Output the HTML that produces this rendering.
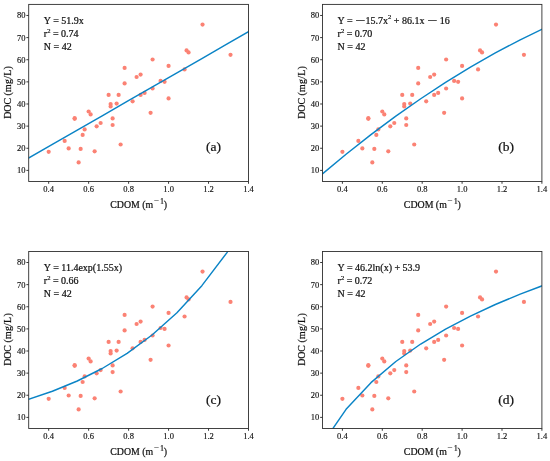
<!DOCTYPE html>
<html><head><meta charset="utf-8"><title>DOC vs CDOM</title>
<style>
html,body{margin:0;padding:0;background:#fff;}
body{width:550px;height:461px;overflow:hidden;}
svg{display:block;font-family:"Liberation Serif","Times New Roman",serif;}
text{fill:#111;stroke:#111;stroke-width:0.22px;}
.tk{font-size:8.5px;}
.tk text{stroke-width:0.15px;}
.al{font-size:9.85px;}
.mn{stroke-width:0;}
.eq{font-size:10px;}
.pl{font-size:13.5px;}
</style></head><body>
<svg width="550" height="461" viewBox="0 0 550 461">
<rect width="550" height="461" fill="#fff"/>
<g id="p0">
<clipPath id="c0"><rect x="28.7" y="4.4" width="219.80" height="177.05"/></clipPath>
<g fill="#fb8274">
<circle cx="48.68" cy="151.79" r="2.1"/>
<circle cx="64.67" cy="140.95" r="2.1"/>
<circle cx="68.66" cy="148.47" r="2.1"/>
<circle cx="74.66" cy="118.82" r="2.1"/>
<circle cx="74.66" cy="118.15" r="2.1"/>
<circle cx="78.65" cy="162.42" r="2.1"/>
<circle cx="80.65" cy="148.92" r="2.1"/>
<circle cx="82.65" cy="134.97" r="2.1"/>
<circle cx="84.65" cy="129.44" r="2.1"/>
<circle cx="88.65" cy="111.52" r="2.1"/>
<circle cx="90.64" cy="114.39" r="2.1"/>
<circle cx="94.64" cy="151.35" r="2.1"/>
<circle cx="96.64" cy="126.34" r="2.1"/>
<circle cx="100.63" cy="123.02" r="2.1"/>
<circle cx="108.63" cy="94.92" r="2.1"/>
<circle cx="110.63" cy="103.99" r="2.1"/>
<circle cx="110.63" cy="106.43" r="2.1"/>
<circle cx="112.62" cy="118.38" r="2.1"/>
<circle cx="112.62" cy="125.02" r="2.1"/>
<circle cx="116.62" cy="103.55" r="2.1"/>
<circle cx="118.62" cy="94.92" r="2.1"/>
<circle cx="120.62" cy="144.49" r="2.1"/>
<circle cx="124.61" cy="67.92" r="2.1"/>
<circle cx="124.61" cy="83.41" r="2.1"/>
<circle cx="132.61" cy="101.33" r="2.1"/>
<circle cx="136.60" cy="76.99" r="2.1"/>
<circle cx="140.60" cy="74.56" r="2.1"/>
<circle cx="140.60" cy="94.92" r="2.1"/>
<circle cx="144.59" cy="92.92" r="2.1"/>
<circle cx="150.59" cy="112.84" r="2.1"/>
<circle cx="152.59" cy="59.51" r="2.1"/>
<circle cx="152.59" cy="88.50" r="2.1"/>
<circle cx="160.58" cy="80.97" r="2.1"/>
<circle cx="164.58" cy="81.86" r="2.1"/>
<circle cx="168.57" cy="65.92" r="2.1"/>
<circle cx="168.57" cy="98.46" r="2.1"/>
<circle cx="184.56" cy="69.47" r="2.1"/>
<circle cx="186.56" cy="50.43" r="2.1"/>
<circle cx="188.55" cy="52.42" r="2.1"/>
<circle cx="202.54" cy="24.54" r="2.1"/>
<circle cx="230.52" cy="54.86" r="2.1"/>
</g>
<polyline clip-path="url(#c0)" fill="none" stroke="#0b84c6" stroke-width="1.45" stroke-linejoin="round" points="27.44,158.78 52.36,144.46 77.28,130.13 102.19,115.81 127.11,101.49 152.03,87.16 176.95,72.84 201.86,58.52 226.78,44.20 251.70,29.87"/>
<rect x="28.7" y="4.4" width="219.80" height="177.05" fill="none" stroke="#2e2e2e" stroke-width="0.9"/>
<path d="M26.40 170.38H28.7M26.40 148.25H28.7M26.40 126.12H28.7M26.40 103.99H28.7M26.40 81.86H28.7M26.40 59.73H28.7M26.40 37.60H28.7M26.40 15.47H28.7M48.68 181.45V183.75M88.65 181.45V183.75M128.61 181.45V183.75M168.57 181.45V183.75M208.54 181.45V183.75M248.50 181.45V183.75" stroke="#2e2e2e" stroke-width="0.95" fill="none"/>
<g class="tk" text-anchor="end">
<text x="25.40" y="173.28">10</text>
<text x="25.40" y="151.15">20</text>
<text x="25.40" y="129.02">30</text>
<text x="25.40" y="106.89">40</text>
<text x="25.40" y="84.76">50</text>
<text x="25.40" y="62.63">60</text>
<text x="25.40" y="40.50">70</text>
<text x="25.40" y="18.37">80</text>
</g><g class="tk" text-anchor="middle">
<text x="48.68" y="192.45">0.4</text>
<text x="88.65" y="192.45">0.6</text>
<text x="128.61" y="192.45">0.8</text>
<text x="168.57" y="192.45">1.0</text>
<text x="208.54" y="192.45">1.2</text>
<text x="248.50" y="192.45">1.4</text>
</g>
<text class="al" x="110.30" y="207.75">CDOM (m<tspan class="mn" font-size="9.6" dx="0.5" dy="-3.6">−</tspan><tspan font-size="7.2" dx="1.2" dy="-0.6">1</tspan><tspan dx="-0.1" dy="4.2">)</tspan></text>
<text class="al" transform="translate(11.10 118.82) rotate(-90)">DOC <tspan letter-spacing="0.28">(mg/L)</tspan></text>
<text class="eq" x="43.80" y="23.60">Y = 51.9x</text>
<text class="eq" x="43.80" y="36.70">r<tspan font-size="6.6" dy="-4.2">2</tspan><tspan dy="4.2"> = 0.74</tspan></text>
<text class="eq" x="43.80" y="49.90">N = 42</text>
<text class="pl" x="206.00" y="151.00">(a)</text>
</g>
<g id="p1">
<clipPath id="c1"><rect x="322.45" y="4.4" width="219.45" height="177.05"/></clipPath>
<g fill="#fb8274">
<circle cx="342.40" cy="151.79" r="2.1"/>
<circle cx="358.36" cy="140.95" r="2.1"/>
<circle cx="362.35" cy="148.47" r="2.1"/>
<circle cx="368.33" cy="118.82" r="2.1"/>
<circle cx="368.33" cy="118.15" r="2.1"/>
<circle cx="372.32" cy="162.42" r="2.1"/>
<circle cx="374.32" cy="148.92" r="2.1"/>
<circle cx="376.31" cy="134.97" r="2.1"/>
<circle cx="378.31" cy="129.44" r="2.1"/>
<circle cx="382.30" cy="111.52" r="2.1"/>
<circle cx="384.29" cy="114.39" r="2.1"/>
<circle cx="388.28" cy="151.35" r="2.1"/>
<circle cx="390.28" cy="126.34" r="2.1"/>
<circle cx="394.27" cy="123.02" r="2.1"/>
<circle cx="402.25" cy="94.92" r="2.1"/>
<circle cx="404.25" cy="103.99" r="2.1"/>
<circle cx="404.25" cy="106.43" r="2.1"/>
<circle cx="406.24" cy="118.38" r="2.1"/>
<circle cx="406.24" cy="125.02" r="2.1"/>
<circle cx="410.23" cy="103.55" r="2.1"/>
<circle cx="412.22" cy="94.92" r="2.1"/>
<circle cx="414.22" cy="144.49" r="2.1"/>
<circle cx="418.21" cy="67.92" r="2.1"/>
<circle cx="418.21" cy="83.41" r="2.1"/>
<circle cx="426.19" cy="101.33" r="2.1"/>
<circle cx="430.18" cy="76.99" r="2.1"/>
<circle cx="434.17" cy="74.56" r="2.1"/>
<circle cx="434.17" cy="94.92" r="2.1"/>
<circle cx="438.16" cy="92.92" r="2.1"/>
<circle cx="444.14" cy="112.84" r="2.1"/>
<circle cx="446.14" cy="59.51" r="2.1"/>
<circle cx="446.14" cy="88.50" r="2.1"/>
<circle cx="454.12" cy="80.97" r="2.1"/>
<circle cx="458.11" cy="81.86" r="2.1"/>
<circle cx="462.10" cy="65.92" r="2.1"/>
<circle cx="462.10" cy="98.46" r="2.1"/>
<circle cx="478.06" cy="69.47" r="2.1"/>
<circle cx="480.05" cy="50.43" r="2.1"/>
<circle cx="482.05" cy="52.42" r="2.1"/>
<circle cx="496.01" cy="24.54" r="2.1"/>
<circle cx="523.94" cy="54.86" r="2.1"/>
</g>
<polyline clip-path="url(#c1)" fill="none" stroke="#0b84c6" stroke-width="1.45" stroke-linejoin="round" points="321.19,174.96 346.07,154.28 370.95,134.69 395.83,116.17 420.70,98.74 445.58,82.38 470.46,67.11 495.34,52.92 520.21,39.81 545.09,27.77"/>
<rect x="322.45" y="4.4" width="219.45" height="177.05" fill="none" stroke="#2e2e2e" stroke-width="0.9"/>
<path d="M320.15 170.38H322.45M320.15 148.25H322.45M320.15 126.12H322.45M320.15 103.99H322.45M320.15 81.86H322.45M320.15 59.73H322.45M320.15 37.60H322.45M320.15 15.47H322.45M342.40 181.45V183.75M382.30 181.45V183.75M422.20 181.45V183.75M462.10 181.45V183.75M502.00 181.45V183.75M541.90 181.45V183.75" stroke="#2e2e2e" stroke-width="0.95" fill="none"/>
<g class="tk" text-anchor="end">
<text x="319.15" y="173.28">10</text>
<text x="319.15" y="151.15">20</text>
<text x="319.15" y="129.02">30</text>
<text x="319.15" y="106.89">40</text>
<text x="319.15" y="84.76">50</text>
<text x="319.15" y="62.63">60</text>
<text x="319.15" y="40.50">70</text>
<text x="319.15" y="18.37">80</text>
</g><g class="tk" text-anchor="middle">
<text x="342.40" y="192.45">0.4</text>
<text x="382.30" y="192.45">0.6</text>
<text x="422.20" y="192.45">0.8</text>
<text x="462.10" y="192.45">1.0</text>
<text x="502.00" y="192.45">1.2</text>
<text x="541.90" y="192.45">1.4</text>
</g>
<text class="al" x="403.87" y="207.75">CDOM (m<tspan class="mn" font-size="9.6" dx="0.5" dy="-3.6">−</tspan><tspan font-size="7.2" dx="1.2" dy="-0.6">1</tspan><tspan dx="-0.1" dy="4.2">)</tspan></text>
<text class="al" transform="translate(304.85 118.82) rotate(-90)">DOC <tspan letter-spacing="0.28">(mg/L)</tspan></text>
<text class="eq" x="337.55" y="23.60">Y = <tspan x="355.50" textLength="10.0" lengthAdjust="spacingAndGlyphs">−</tspan><tspan x="365.45">15.7x</tspan><tspan font-size="6.6" dy="-4.2">2</tspan><tspan x="393.65" dy="4.2">+</tspan><tspan x="402.05">86.1x</tspan><tspan x="427.60" textLength="10.0" lengthAdjust="spacingAndGlyphs">−</tspan><tspan x="439.65">16</tspan></text>
<text class="eq" x="337.55" y="36.70">r<tspan font-size="6.6" dy="-4.2">2</tspan><tspan dy="4.2"> = 0.70</tspan></text>
<text class="eq" x="337.55" y="49.90">N = 42</text>
<text class="pl" x="498.15" y="151.00">(b)</text>
</g>
<g id="p2">
<clipPath id="c2"><rect x="28.7" y="251.45" width="219.80" height="177.00"/></clipPath>
<g fill="#fb8274">
<circle cx="48.68" cy="398.80" r="2.1"/>
<circle cx="64.67" cy="387.96" r="2.1"/>
<circle cx="68.66" cy="395.48" r="2.1"/>
<circle cx="74.66" cy="365.84" r="2.1"/>
<circle cx="74.66" cy="365.17" r="2.1"/>
<circle cx="78.65" cy="409.42" r="2.1"/>
<circle cx="80.65" cy="395.93" r="2.1"/>
<circle cx="82.65" cy="381.99" r="2.1"/>
<circle cx="84.65" cy="376.46" r="2.1"/>
<circle cx="88.65" cy="358.53" r="2.1"/>
<circle cx="90.64" cy="361.41" r="2.1"/>
<circle cx="94.64" cy="398.36" r="2.1"/>
<circle cx="96.64" cy="373.36" r="2.1"/>
<circle cx="100.63" cy="370.04" r="2.1"/>
<circle cx="108.63" cy="341.94" r="2.1"/>
<circle cx="110.63" cy="351.01" r="2.1"/>
<circle cx="110.63" cy="353.45" r="2.1"/>
<circle cx="112.62" cy="365.39" r="2.1"/>
<circle cx="112.62" cy="372.03" r="2.1"/>
<circle cx="116.62" cy="350.57" r="2.1"/>
<circle cx="118.62" cy="341.94" r="2.1"/>
<circle cx="120.62" cy="391.50" r="2.1"/>
<circle cx="124.61" cy="314.95" r="2.1"/>
<circle cx="124.61" cy="330.44" r="2.1"/>
<circle cx="132.61" cy="348.36" r="2.1"/>
<circle cx="136.60" cy="324.02" r="2.1"/>
<circle cx="140.60" cy="321.59" r="2.1"/>
<circle cx="140.60" cy="341.94" r="2.1"/>
<circle cx="144.59" cy="339.95" r="2.1"/>
<circle cx="150.59" cy="359.86" r="2.1"/>
<circle cx="152.59" cy="306.54" r="2.1"/>
<circle cx="152.59" cy="335.52" r="2.1"/>
<circle cx="160.58" cy="328.00" r="2.1"/>
<circle cx="164.58" cy="328.89" r="2.1"/>
<circle cx="168.57" cy="312.96" r="2.1"/>
<circle cx="168.57" cy="345.48" r="2.1"/>
<circle cx="184.56" cy="316.50" r="2.1"/>
<circle cx="186.56" cy="297.47" r="2.1"/>
<circle cx="188.55" cy="299.46" r="2.1"/>
<circle cx="202.54" cy="271.58" r="2.1"/>
<circle cx="230.52" cy="301.89" r="2.1"/>
</g>
<polyline clip-path="url(#c2)" fill="none" stroke="#0b84c6" stroke-width="1.45" stroke-linejoin="round" points="27.44,399.75 52.36,391.27 77.28,380.98 102.19,368.50 127.11,353.36 152.03,334.99 176.95,312.70 201.86,285.66 226.78,252.86 251.70,213.06"/>
<rect x="28.7" y="251.45" width="219.80" height="177.00" fill="none" stroke="#2e2e2e" stroke-width="0.9"/>
<path d="M26.40 417.39H28.7M26.40 395.26H28.7M26.40 373.14H28.7M26.40 351.01H28.7M26.40 328.89H28.7M26.40 306.76H28.7M26.40 284.64H28.7M26.40 262.51H28.7M48.68 428.45V430.75M88.65 428.45V430.75M128.61 428.45V430.75M168.57 428.45V430.75M208.54 428.45V430.75M248.50 428.45V430.75" stroke="#2e2e2e" stroke-width="0.95" fill="none"/>
<g class="tk" text-anchor="end">
<text x="25.40" y="420.29">10</text>
<text x="25.40" y="398.16">20</text>
<text x="25.40" y="376.04">30</text>
<text x="25.40" y="353.91">40</text>
<text x="25.40" y="331.79">50</text>
<text x="25.40" y="309.66">60</text>
<text x="25.40" y="287.54">70</text>
<text x="25.40" y="265.41">80</text>
</g><g class="tk" text-anchor="middle">
<text x="48.68" y="439.45">0.4</text>
<text x="88.65" y="439.45">0.6</text>
<text x="128.61" y="439.45">0.8</text>
<text x="168.57" y="439.45">1.0</text>
<text x="208.54" y="439.45">1.2</text>
<text x="248.50" y="439.45">1.4</text>
</g>
<text class="al" x="110.30" y="454.75">CDOM (m<tspan class="mn" font-size="9.6" dx="0.5" dy="-3.6">−</tspan><tspan font-size="7.2" dx="1.2" dy="-0.6">1</tspan><tspan dx="-0.1" dy="4.2">)</tspan></text>
<text class="al" transform="translate(11.10 365.85) rotate(-90)">DOC <tspan letter-spacing="0.28">(mg/L)</tspan></text>
<text class="eq" x="43.80" y="270.65">Y = 11.4exp(1.55x)</text>
<text class="eq" x="43.80" y="283.75">r<tspan font-size="6.6" dy="-4.2">2</tspan><tspan dy="4.2"> = 0.66</tspan></text>
<text class="eq" x="43.80" y="296.95">N = 42</text>
<text class="pl" x="206.00" y="403.95">(c)</text>
</g>
<g id="p3">
<clipPath id="c3"><rect x="322.45" y="251.45" width="219.45" height="177.00"/></clipPath>
<g fill="#fb8274">
<circle cx="342.40" cy="398.80" r="2.1"/>
<circle cx="358.36" cy="387.96" r="2.1"/>
<circle cx="362.35" cy="395.48" r="2.1"/>
<circle cx="368.33" cy="365.84" r="2.1"/>
<circle cx="368.33" cy="365.17" r="2.1"/>
<circle cx="372.32" cy="409.42" r="2.1"/>
<circle cx="374.32" cy="395.93" r="2.1"/>
<circle cx="376.31" cy="381.99" r="2.1"/>
<circle cx="378.31" cy="376.46" r="2.1"/>
<circle cx="382.30" cy="358.53" r="2.1"/>
<circle cx="384.29" cy="361.41" r="2.1"/>
<circle cx="388.28" cy="398.36" r="2.1"/>
<circle cx="390.28" cy="373.36" r="2.1"/>
<circle cx="394.27" cy="370.04" r="2.1"/>
<circle cx="402.25" cy="341.94" r="2.1"/>
<circle cx="404.25" cy="351.01" r="2.1"/>
<circle cx="404.25" cy="353.45" r="2.1"/>
<circle cx="406.24" cy="365.39" r="2.1"/>
<circle cx="406.24" cy="372.03" r="2.1"/>
<circle cx="410.23" cy="350.57" r="2.1"/>
<circle cx="412.22" cy="341.94" r="2.1"/>
<circle cx="414.22" cy="391.50" r="2.1"/>
<circle cx="418.21" cy="314.95" r="2.1"/>
<circle cx="418.21" cy="330.44" r="2.1"/>
<circle cx="426.19" cy="348.36" r="2.1"/>
<circle cx="430.18" cy="324.02" r="2.1"/>
<circle cx="434.17" cy="321.59" r="2.1"/>
<circle cx="434.17" cy="341.94" r="2.1"/>
<circle cx="438.16" cy="339.95" r="2.1"/>
<circle cx="444.14" cy="359.86" r="2.1"/>
<circle cx="446.14" cy="306.54" r="2.1"/>
<circle cx="446.14" cy="335.52" r="2.1"/>
<circle cx="454.12" cy="328.00" r="2.1"/>
<circle cx="458.11" cy="328.89" r="2.1"/>
<circle cx="462.10" cy="312.96" r="2.1"/>
<circle cx="462.10" cy="345.48" r="2.1"/>
<circle cx="478.06" cy="316.50" r="2.1"/>
<circle cx="480.05" cy="297.47" r="2.1"/>
<circle cx="482.05" cy="299.46" r="2.1"/>
<circle cx="496.01" cy="271.58" r="2.1"/>
<circle cx="523.94" cy="301.89" r="2.1"/>
</g>
<polyline clip-path="url(#c3)" fill="none" stroke="#0b84c6" stroke-width="1.45" stroke-linejoin="round" points="321.19,445.50 346.07,409.32 370.95,382.66 395.83,361.53 420.70,344.03 445.58,329.09 470.46,316.06 495.34,304.51 520.21,294.13 545.09,284.70"/>
<rect x="322.45" y="251.45" width="219.45" height="177.00" fill="none" stroke="#2e2e2e" stroke-width="0.9"/>
<path d="M320.15 417.39H322.45M320.15 395.26H322.45M320.15 373.14H322.45M320.15 351.01H322.45M320.15 328.89H322.45M320.15 306.76H322.45M320.15 284.64H322.45M320.15 262.51H322.45M342.40 428.45V430.75M382.30 428.45V430.75M422.20 428.45V430.75M462.10 428.45V430.75M502.00 428.45V430.75M541.90 428.45V430.75" stroke="#2e2e2e" stroke-width="0.95" fill="none"/>
<g class="tk" text-anchor="end">
<text x="319.15" y="420.29">10</text>
<text x="319.15" y="398.16">20</text>
<text x="319.15" y="376.04">30</text>
<text x="319.15" y="353.91">40</text>
<text x="319.15" y="331.79">50</text>
<text x="319.15" y="309.66">60</text>
<text x="319.15" y="287.54">70</text>
<text x="319.15" y="265.41">80</text>
</g><g class="tk" text-anchor="middle">
<text x="342.40" y="439.45">0.4</text>
<text x="382.30" y="439.45">0.6</text>
<text x="422.20" y="439.45">0.8</text>
<text x="462.10" y="439.45">1.0</text>
<text x="502.00" y="439.45">1.2</text>
<text x="541.90" y="439.45">1.4</text>
</g>
<text class="al" x="403.87" y="454.75">CDOM (m<tspan class="mn" font-size="9.6" dx="0.5" dy="-3.6">−</tspan><tspan font-size="7.2" dx="1.2" dy="-0.6">1</tspan><tspan dx="-0.1" dy="4.2">)</tspan></text>
<text class="al" transform="translate(304.85 365.85) rotate(-90)">DOC <tspan letter-spacing="0.28">(mg/L)</tspan></text>
<text class="eq" x="337.55" y="270.65">Y = 46.2ln(x) + 53.9</text>
<text class="eq" x="337.55" y="283.75">r<tspan font-size="6.6" dy="-4.2">2</tspan><tspan dy="4.2"> = 0.72</tspan></text>
<text class="eq" x="337.55" y="296.95">N = 42</text>
<text class="pl" x="498.15" y="403.95">(d)</text>
</g>
</svg></body></html>
